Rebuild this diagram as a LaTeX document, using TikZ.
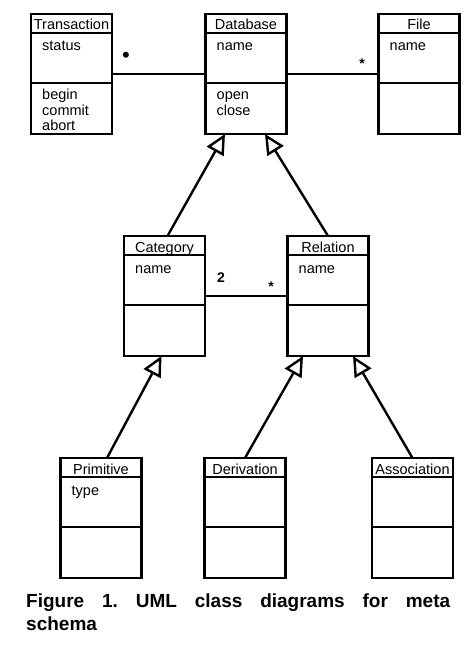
\documentclass[tikz,border=0pt]{standalone}
\usepackage{fontspec}
\setmainfont{Liberation Sans}
\usetikzlibrary{arrows.meta}
\frenchspacing

\newcommand{\umlclass}[5]{%
  \node[classbox] (#1) at (#2) {};
  \draw[classline] ([yshift=-19pt]#1.north west) -- ([yshift=-19pt]#1.north east);
  \draw[classline] ([yshift=-69pt]#1.north west) -- ([yshift=-69pt]#1.north east);
  \node[classtext,anchor=base] (#1-name) at ([yshift=-16pt]#1.north) {#3};
  \foreach \txt [count=\i] in {#4}
    \node[classtext,anchor=base west] (#1-attr\i) at ([xshift=11pt,yshift={-37pt-(\i-1)*15.5pt}]#1.north west) {\txt};
  \foreach \txt [count=\i] in {#5}
    \node[classtext,anchor=base west] (#1-op\i) at ([xshift=11pt,yshift={-86pt-(\i-1)*15.5pt}]#1.north west) {\txt};
}

\begin{document}
\begin{tikzpicture}[x=1pt,y=-1pt,
  classbox/.style={draw,line width=2.4pt,minimum width=81pt,minimum height=120pt,inner sep=0pt,outer sep=0pt},
  classline/.style={line width=2.4pt},
  classtext/.style={inner sep=0pt,font=\fontsize{14.5}{15.5}\selectfont},
  mult/.style={inner sep=0pt,anchor=base,font=\fontsize{14}{16}\selectfont\bfseries},
  assoc/.style={line width=2.4pt},
  inherit/.style={line width=2.4pt,-{Triangle[open,length=20pt,width=19pt]}},
  caption/.style={inner sep=0pt,anchor=base west,font=\fontsize{19}{23}\selectfont\bfseries}]
\useasboundingbox (0,0) rectangle (474,658);

\umlclass{transaction}{71.5,74}{Transaction}{status}{begin,commit,abort}
\umlclass{database}{246,74}{Database}{name}{open,close}
\umlclass{file}{419,74}{File}{name}{}
\umlclass{category}{164.5,296}{Category}{name}{}
\umlclass{relation}{328,296}{Relation}{name}{}
\umlclass{primitive}{101,518}{Primitive}{type}{}
\umlclass{derivation}{245,518}{Derivation}{}{}
\umlclass{association}{412.5,518}{Association}{}{}

\draw[assoc] (transaction.east) -- (database.west);
\draw[assoc] (database.east) -- (file.west);
\draw[assoc] (category.east) -- (relation.west);
\node[mult,font=\fontsize{22}{24}\selectfont] (m-transaction) at ([xshift=14pt,yshift=11pt]transaction.east) {•};
\node[mult] (m-file) at ([xshift=-16.5pt,yshift=5pt]file.west) {*};
\node[mult] (m-category) at ([xshift=16pt,yshift=14pt]category.east) {2};
\node[mult] (m-relation) at ([xshift=-16.5pt,yshift=5pt]relation.west) {*};

\draw[inherit] ([xshift=3pt]category.north) -- ([xshift=-21pt]database.south);
\draw[inherit] (relation.north) -- ([xshift=19pt]database.south);
\draw[inherit] ([xshift=6pt]primitive.north) -- ([xshift=-3pt]category.south);
\draw[inherit] (derivation.north) -- ([xshift=-25pt]relation.south);
\draw[inherit] (association.north) -- ([xshift=25pt]relation.south);

\node[caption] (cap1) at (26,607) {\makebox[424pt][s]{Figure 1. UML class diagrams for meta}};
\node[caption] (cap2) at (26,630) {schema};
\end{tikzpicture}
\end{document}
